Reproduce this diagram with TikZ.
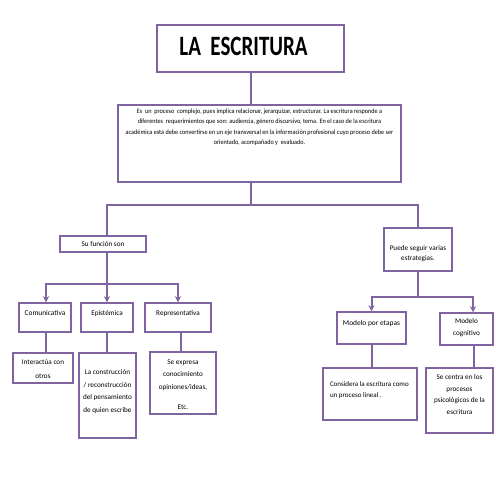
\documentclass[tikz,border=0pt]{standalone}
\usepackage{fontspec}
\usepackage{graphicx}
\setmainfont{Carlito}
\newfontfamily\condf{Carlito}[FakeStretch=0.93]
\usetikzlibrary{arrows.meta}
\definecolor{pline}{HTML}{8064A2}
% #1 width, #2 height, #3 first baseline offset, #4 baselineskip, #5 text
\newcommand\bt[5]{\parbox[c][#2][t]{#1}{\setlength\baselineskip{#4}\centering\rule{0pt}{#3}#5}}
\newcommand\btl[5]{\parbox[c][#2][t]{#1}{\setlength\baselineskip{#4}\raggedright\leftskip=7pt\rule{0pt}{#3}#5}}
\begin{document}
\begin{tikzpicture}[x=1pt,y=1pt,
  box/.style={draw=pline, line width=1.5pt, inner sep=0pt, fill=white,
    font=\fontsize{7.2}{12}\selectfont},
  conn/.style={draw=pline, line width=2pt},
  arr/.style={conn, -{Stealth[length=6pt,width=6pt]}}]
\useasboundingbox (0,0) rectangle (495,-495);
\fill[white] (0,0) rectangle (495,-495);

% boxes
\node[box] (title) at (250.5,-48.5)
  {\parbox[c][47pt][t]{187pt}{\centering\rule{0pt}{30.7pt}\hspace*{-14pt}\scalebox{0.75}[1]{\fontsize{28}{28}\selectfont\bfseries LA\ \ ESCRITURA}}};
\node[box] (main) at (259.5,-143.5)
  {\parbox[c][77pt][t]{283pt}{\condf\fontsize{6.65}{10.5}\selectfont\centering\rule{0pt}{8pt}Es\ \ un\ \ proceso\ \ complejo, pues implica relacionar, jerarquizar, estructurar. La escritura responde a\\
  diferentes\ \ requerimientos que son: audiencia, género discursivo, tema. En el caso de la escritura\\
  académica esta debe convertirse en un eje transversal en la información profesional cuyo proceso debe ser\\
  orientado, acompañado y\ \ evaluado.}};
\node[box] (su) at (103,-244) {\bt{86pt}{16pt}{10.5pt}{12pt}{Su función son}};
\node[box] (puede) at (418,-249.5) {\bt{68pt}{43pt}{22pt}{10pt}{Puede seguir varias\\estrategias.}};
\node[box, font=\fontsize{7.4}{12}\selectfont] (com) at (45,-317.5) {\bt{52pt}{29pt}{12.5pt}{12pt}{Comunicativa}};
\node[box] (epi) at (107,-317.5) {\bt{52pt}{29pt}{12.5pt}{12pt}{Epistémica}};
\node[box] (rep) at (178,-317.5) {\bt{66pt}{29pt}{12.5pt}{12pt}{Representativa}};
\node[box] (inter) at (43,-368) {\bt{60pt}{30pt}{11.5pt}{13.5pt}{Interactúa con\\otros}};
\node[box] (cons) at (107.5,-395.5) {\bt{57pt}{85pt}{21.5pt}{12.7pt}{La construcción\\/ reconstrucción\\del pensamiento\\de quien escribe}};
\node[box] (expr) at (183,-383) {\bt{66pt}{62pt}{12.5pt}{12.3pt}{Se expresa\\conocimiento\\opiniones/ideas,\\[8pt]Etc.}};
\node[box, font=\fontsize{7.4}{12}\selectfont] (etapas) at (371.5,-328) {\bt{69pt}{32pt}{13.5pt}{12pt}{Modelo por etapas}};
\node[box] (cogn) at (466.5,-329) {\bt{53pt}{32pt}{10.5pt}{12pt}{Modelo\\cognitivo}};
\node[box, font=\fontsize{7}{12}\selectfont] (consid) at (370,-394) {\btl{94pt}{52pt}{18.5pt}{10.5pt}{Considera la escritura como\\un proceso lineal .}};
\node[box] (centra) at (459.5,-400.5) {\bt{67pt}{65pt}{11.5pt}{11.7pt}{Se centra en los\\procesos\\psicológicos de la\\escritura}};

% connectors
\coordinate (j1) at (251,-205);
\coordinate (j2) at (107,-284);
\coordinate (j3) at (418,-297);
\draw[conn] (title.south) -- (title.south |- main.north);
\draw[conn] (main.south -| j1) -- (j1);
\draw[conn] ([xshift=4pt]su.north) |- (j1) -| (puede.north);

\draw[conn] ([xshift=4pt]su.south) -- (j2);
\draw[arr] (j2) -- (epi.north);
\draw[arr] (j2) -| ([xshift=1pt]com.north);
\draw[arr] (j2) -| (rep.north);
\draw[conn] ([xshift=1pt]com.south) -- ([xshift=1pt]com.south |- inter.north);
\draw[conn] (epi.south) -- (epi.south |- cons.north);
\draw[conn] ([xshift=3pt]rep.south) -- ([xshift=3pt]rep.south |- expr.north);

\draw[conn] (puede.south) -- (j3);
\draw[arr] (j3) -| (etapas.north);
\draw[arr] (j3) -| ([xshift=6.5pt]cogn.north);
\draw[conn] (etapas.south) -- (etapas.south |- consid.north);
\draw[conn] ([xshift=7pt]cogn.south) -- ([xshift=7pt]cogn.south |- centra.north);
\end{tikzpicture}
\end{document}
